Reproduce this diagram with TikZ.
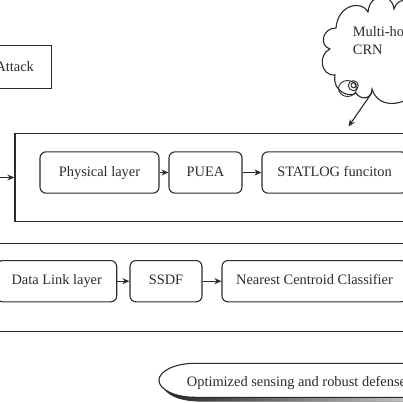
\documentclass[tikz,border=0pt]{standalone}
\usepackage{fontspec}
\setmainfont{Liberation Serif}
\usetikzlibrary{arrows.meta}
\definecolor{ink}{HTML}{2B2B2B}
\begin{document}
\begin{tikzpicture}[x=1pt,y=-1pt,
  font=\fontsize{14.4}{18.3}\selectfont,
  every node/.style={text=ink},
  thin line/.style={draw=ink, line width=1.1pt},
  rbox/.style={draw=ink, line width=1.1pt, rounded corners=6pt, minimum height=41.3pt,
    inner sep=0pt, text height=10pt, text depth=3pt},
  frame/.style={draw=ink, line width=1.3pt, inner sep=0pt},
  arr/.style={draw=ink, line width=1.1pt, -{Stealth[length=7pt,width=6pt]}}]
\useasboundingbox (0,0) rectangle (403,403);
\clip (0,0) rectangle (403,403);

% Attack box
\node[frame, line width=1.1pt, minimum width=74pt, minimum height=42.6pt] (attack) at (14.7,67) {Attack};

% cloud
\draw[thin line, fill=white] (415,14) .. controls (408,-4) and (398,-2) .. (394,9)
  .. controls (392,-8) and (370,-8) .. (368,12)
  .. controls (362,0) and (338,4) .. (336,28)
  .. controls (322,28) and (319,46) .. (330,49)
  .. controls (318,54) and (320,76) .. (335,75)
  .. controls (332,92) and (350,98) .. (356,93)
  .. controls (360,100) and (372,100) .. (372,89)
  .. controls (378,108) and (400,106) .. (412,96)
  -- (425,96) -- (425,14) -- cycle;
\draw[draw=ink, line width=0.9pt] (347.5,88.5) ellipse[x radius=9, y radius=8];
\draw[draw=ink, line width=0.9pt] (353.3,85.7) circle[radius=5];
\draw[draw=ink, line width=0.9pt] (353.6,85.2) circle[radius=2.6];
\node[anchor=north west, align=left, inner sep=0pt] (crn) at (352.7,26) {Multi-hop\\CRN};
\coordinate (cloudout) at (371.7,93);
\coordinate (cloudtip) at (348.5,126.5);
\draw[arr] (cloudout) -- (cloudtip);

% layer 1
\node[frame, minimum width=415pt, minimum height=88.4pt] (l1) at (222.5,177.5) {};
\coordinate (in1) at (-5,177.5);
\draw[arr] (in1) -- (l1.west);
\node[rbox, minimum width=119pt] (phy) at (99.5,172.5) {Physical layer};
\node[rbox, minimum width=73pt] (puea) at (205.5,172.5) {PUEA};
\node[rbox, minimum width=145pt] (stat) at (334.5,172.5) {STATLOG funciton};
\draw[arr] (phy) -- (puea);
\draw[arr] (puea) -- (stat);

% layer 2
\node[frame, minimum width=460pt, minimum height=88.4pt] (l2) at (205,287.5) {};
\node[rbox, minimum width=120pt] (dll) at (56.7,281.2) {Data Link layer};
\node[rbox, minimum width=72pt] (ssdf) at (166,281.2) {SSDF};
\node[rbox, minimum width=185pt] (ncc) at (314.5,281.2) {Nearest Centroid Classifier};
\draw[arr] (dll) -- (ssdf);
\draw[arr] (ssdf) -- (ncc);

% optimized sensing terminal
\fill[left color=black!85, right color=gray!35] (434,367.3) -- (199,367.3)
  arc[start angle=-90, end angle=-270, x radius=36, y radius=17] -- (434,401.3) -- cycle;
\draw[thin line, fill=white] (430,363.3) -- (195,363.3)
  arc[start angle=-90, end angle=-270, x radius=36, y radius=17] -- (430,397.3);
\node[anchor=west, inner sep=0pt, text height=10pt, text depth=3pt] (opt) at (186.7,383) {Optimized sensing and robust defense};
\end{tikzpicture}
\end{document}
